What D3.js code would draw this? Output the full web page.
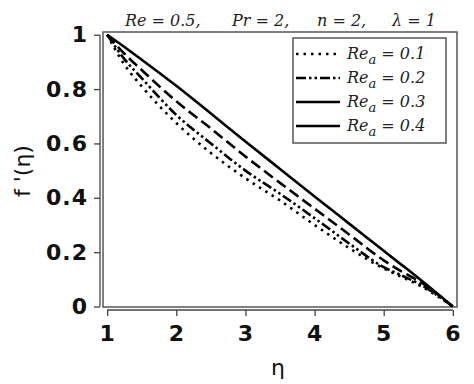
<!DOCTYPE html>
<html>
<head>
<meta charset="utf-8">
<script src="https://cdn.jsdelivr.net/npm/d3@7"></script>
<style>
  body { margin: 0; background: #fff; }
  svg { display: block; }
</style>
</head>
<body>
<main></main>
<script>
const eta = [1, 1.25, 1.5, 2, 2.5, 3, 3.5, 4, 4.5, 5, 5.25, 5.5, 6];
const reA01 = [1, 0.89, 0.81, 0.675, 0.565, 0.472, 0.39, 0.3, 0.215, 0.14, 0.11, 0.08, 0];
const reA02 = [1, 0.91, 0.84, 0.705, 0.6, 0.5, 0.415, 0.325, 0.232, 0.145, 0.115, 0.085, 0];
const reA03 = [1, 0.93, 0.87, 0.755, 0.655, 0.552, 0.455, 0.36, 0.265, 0.17, 0.13, 0.095, 0];
const reA04 = [1, 0.955, 0.908, 0.812, 0.71, 0.607, 0.506, 0.405, 0.305, 0.205, 0.155, 0.105, 0];
const seriesLabels = ["0.1", "0.2", "0.3", "0.4"];
const xTicks = [1, 2, 3, 4, 5, 6];
const yTicks = [0, 0.2, 0.4, 0.6, 0.8, 1];
const titleParts = ["Re = 0.5,", "Pr = 2,", "n = 2,", "\u03bb = 1"];

const w = 474, h = 384;
const plotL = 103, plotR = 457, plotT = 32, plotB = 307;

const svg = d3.select("main").append("svg")
  .attr("width", w)
  .attr("height", h);

const x = d3.scaleLinear().domain([0.94, 6.06]).range([plotL, plotR]);
const y = d3.scaleLinear().domain([0, 1.01]).range([306.5, plotT]);

const tickFont = "'DejaVu Sans', sans-serif";

// frame
svg.append("rect")
  .attr("x", plotL).attr("y", plotT)
  .attr("width", plotR - plotL).attr("height", plotB - plotT)
  .attr("fill", "none").attr("stroke", "#555").attr("stroke-width", 1.5);

// x axis (sits just below frame)
const xAxisG = svg.append("g").attr("transform", "translate(0,310)");
xAxisG.call(d3.axisBottom(x).tickValues(d3.range(1.5, 6, 1)).tickSize(3).tickFormat("").tickSizeOuter(0));
xAxisG.call(d3.axisBottom(x).tickValues(xTicks).tickSize(6).tickPadding(9).tickSizeOuter(0).tickFormat(d3.format("d")));
xAxisG.selectAll(".domain").attr("d", `M${x(1)},0H${x(6)}`);

const yAxisG = svg.append("g").attr("transform", "translate(100,0)");
yAxisG.call(d3.axisLeft(y).tickValues(d3.range(0.1, 1, 0.2)).tickSize(3).tickFormat("").tickSizeOuter(0));
yAxisG.call(d3.axisLeft(y).tickValues(yTicks).tickSize(6).tickPadding(6).tickSizeOuter(0).tickFormat(d => d));
yAxisG.selectAll(".domain").attr("d", `M0,${y(0)}V${y(1)}`);

svg.selectAll(".tick line, .domain").attr("stroke", "#444").attr("stroke-width", 1.3);
svg.selectAll(".tick text")
  .style("font-family", tickFont)
  .style("font-size", "22px")
  .style("font-weight", "600")
  .style("letter-spacing", "1px")
  .attr("fill", "#111");

// curves
const line = d3.line()
  .x(d => x(d[0]))
  .y(d => y(d[1]))
  .curve(d3.curveMonotoneX);

const series = [
  { vals: reA01, dash: "2.5,5", width: 2.6 },
  { vals: reA02, dash: "10,3,2.5,3,2.5,3", width: 2.6 },
  { vals: reA03, dash: "11,5", width: 2.6 },
  { vals: reA04, dash: null, width: 2.6 }
];

svg.selectAll("path.curve")
  .data(series)
  .enter()
  .append("path")
  .attr("class", "curve")
  .attr("d", s => line(eta.map((e, i) => [e, s.vals[i]])))
  .attr("fill", "none")
  .attr("stroke", "#000")
  .attr("stroke-width", s => s.width)
  .attr("stroke-dasharray", s => s.dash);

// title
const titleX = [125, 232, 317, 392];
svg.selectAll("text.title")
  .data(titleParts)
  .enter()
  .append("text")
  .attr("class", "title")
  .attr("x", (d, i) => titleX[i])
  .attr("y", 26)
  .style("font-family", "'DejaVu Serif', serif")
  .style("font-style", "italic")
  .style("font-size", "16px")
  .attr("fill", "#222")
  .text(d => d);

// legend
const legend = svg.append("g");
legend.append("rect")
  .attr("x", 293).attr("y", 38)
  .attr("width", 153).attr("height", 105)
  .attr("fill", "#fff").attr("stroke", "#555").attr("stroke-width", 1.5);

const legendDash = ["2.5,5", "10,3,2.5,3,2.5,3", null, null];
seriesLabels.forEach((lab, i) => {
  const ly = 54 + i * 24;
  legend.append("line")
    .attr("x1", 296).attr("x2", 340)
    .attr("y1", ly).attr("y2", ly)
    .attr("stroke", "#000").attr("stroke-width", 2.6)
    .attr("stroke-dasharray", legendDash[i]);
  const t = legend.append("text")
    .attr("x", 347).attr("y", ly + 5)
    .style("font-family", "'DejaVu Serif', serif")
    .style("font-style", "italic")
    .style("font-size", "16px")
    .attr("fill", "#222");
  t.append("tspan").text("Re");
  t.append("tspan").attr("dy", 5).style("font-size", "13px").text("a");
  t.append("tspan").attr("dy", -5).text(" = " + lab);
});

// axis titles
svg.append("text")
  .attr("x", 278).attr("y", 375)
  .attr("text-anchor", "middle")
  .style("font-family", tickFont)
  .style("font-size", "22px")
  .attr("fill", "#111")
  .text("\u03b7");

svg.append("text")
  .attr("transform", "translate(30,171)rotate(-90)")
  .attr("text-anchor", "middle")
  .style("font-family", tickFont)
  .style("font-size", "22px")
  .attr("fill", "#111")
  .text("f '(\u03b7)");
</script>
</body>
</html>
